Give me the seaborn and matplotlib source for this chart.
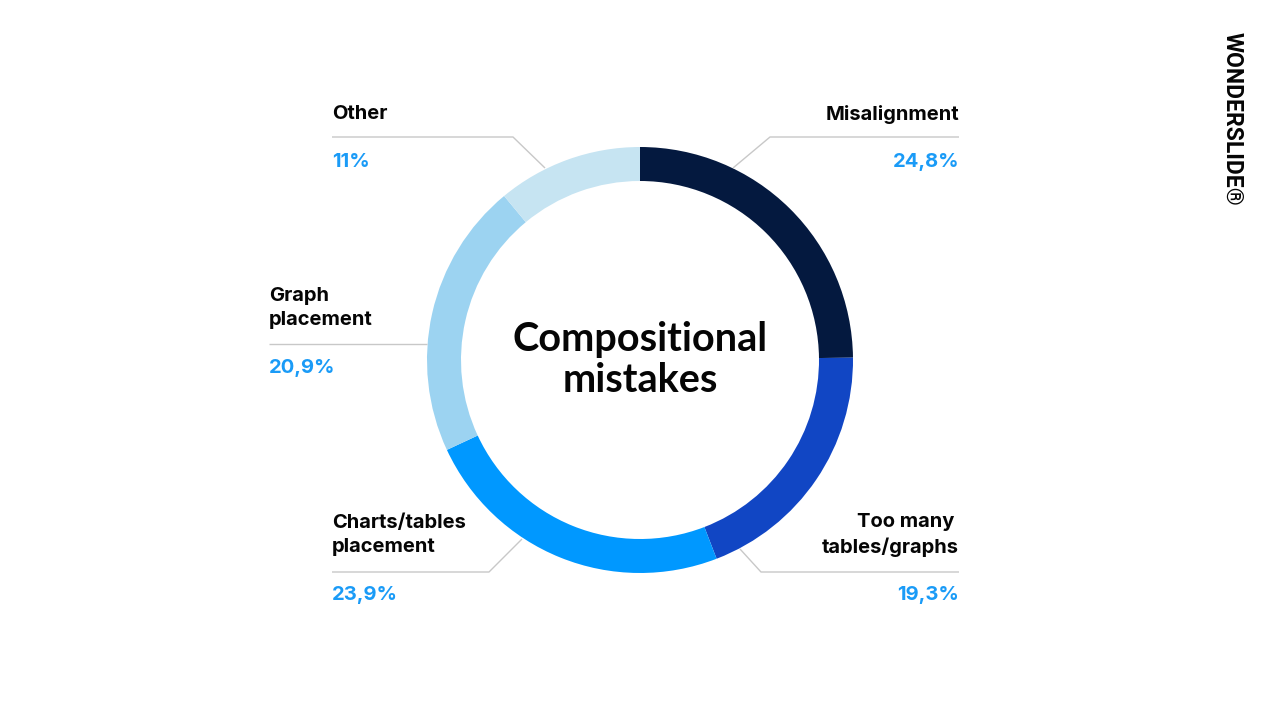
import matplotlib
matplotlib.use('Agg')
import matplotlib.pyplot as plt
import seaborn as sns

# ── Data ─────────────────────────────────────────────────────
categories = ['Misalignment', 'Too many tables/graphs', 'Charts/tables placement',
              'Graph placement', 'Other']
shares = [24.8, 19.3, 23.9, 20.9, 11.0]
pct_labels = ['24,8%', '19,3%', '23,9%', '20,9%', '11%']
label_text = ['Misalignment', 'Too many \ntables/graphs', 'Charts/tables\nplacement',
              'Graph\nplacement', 'Other']
colors = ['#04193F', '#1146C4', '#0098FF', '#9CD3F1', '#C6E4F2']

# ── Style ────────────────────────────────────────────────────
sns.set_theme(style='white')
plt.rcParams['font.family'] = ['Inter', 'DejaVu Sans']

W, H = 1280, 720
fig = plt.figure(figsize=(12.8, 7.2), dpi=100)
ax = fig.add_axes([0, 0, 1, 1])

def Y(y):
    # pixel row (from top) -> data y
    return H - y

# donut
cx, cy, r_out, width = 640, 360, 213, 34
ax.pie(shares, colors=colors, startangle=90, counterclock=False,
       center=(cx, Y(cy)), radius=r_out, frame=True,
       wedgeprops=dict(width=width, linewidth=0))
ax.set_xlim(0, W)
ax.set_ylim(0, H)
ax.axis('off')

# centre title
ax.text(cx, Y(360), 'Compositional\nmistakes', ha='center', va='center',
        fontsize=28.5, fontweight='bold', family=['Lato', 'DejaVu Sans'],
        linespacing=1.12, color='#050505')

# ── Leader lines (layout) ────────────────────────────────────
line_kw = dict(color='#C8C8C8', lw=1.0, solid_capstyle='butt')
leaders = {
    'Misalignment': [(733, 168), (770, 137), (959, 137)],
    'Too many tables/graphs': [(740, 549), (761, 572), (959, 572)],
    'Charts/tables placement': [(522, 539), (489, 572), (332, 572)],
    'Graph placement': [(427, 344), (269, 344)],
    'Other': [(545, 168), (513, 137), (332, 137)],
}
for name, pts in leaders.items():
    ax.plot([p[0] for p in pts], [Y(p[1]) for p in pts], **line_kw)

# ── Labels (layout) ──────────────────────────────────────────
# (x, title centre y, pct centre y, alignment)
label_pos = {
    'Misalignment': (959, 114, 162, 'right'),
    'Too many tables/graphs': (959, 535, 595, 'right'),
    'Charts/tables placement': (332, 535, 595, 'left'),
    'Graph placement': (269, 308, 368, 'left'),
    'Other': (332, 114, 162, 'left'),
}
for name, txt, pct in zip(categories, label_text, pct_labels):
    x, ty, py, ha = label_pos[name]
    ax.text(x, Y(ty), txt, ha=ha, va='center', fontsize=14.5,
            fontweight='bold', color='#050505', linespacing=1.38)
    ax.text(x, Y(py), pct, ha=ha, va='center', fontsize=14.5,
            fontweight='bold', color='#1A9BF7')

# watermark
ax.text(1232, Y(32), 'WONDERSLIDE®', rotation=-90, ha='center', va='top',
        fontsize=16.5, fontweight='bold', family=['Roboto', 'DejaVu Sans'],
        color='#050505', fontstretch='condensed')

plt.savefig('out.png', dpi=100)
plt.close()
